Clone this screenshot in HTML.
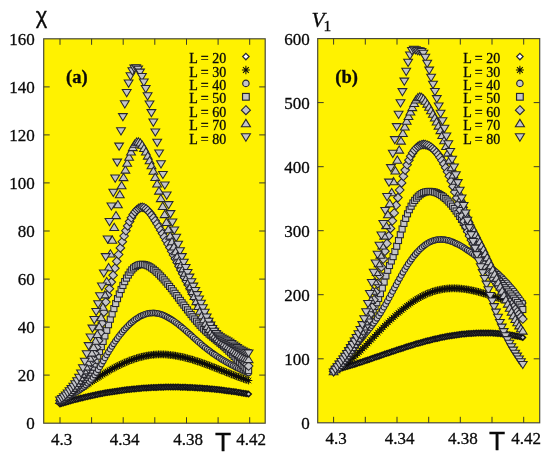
<!DOCTYPE html>
<html lang="en"><head><meta charset="utf-8"><title>Figure: susceptibility and V1 versus T</title>
<style>
html,body{margin:0;padding:0;background:#fff}
svg{display:block}
text{font-family:"Liberation Serif",serif;fill:#0a0a0a;stroke:#0a0a0a;stroke-width:.3px}
.c{fill:none;stroke:none}
.tk{font-size:17px}
.lg{font-size:14px}
.sub{font-size:15.5px}
.ab{font-size:18.5px;font-weight:bold}
.T{font-family:"Liberation Sans",sans-serif;font-size:26.5px}
.chi{font-family:"Liberation Sans",sans-serif;font-size:22px}
.V{font-style:italic;font-size:21.5px}
</style></head><body>
<svg width="550" height="463" viewBox="0 0 550 463">
<defs><marker id="k20" markerUnits="userSpaceOnUse" markerWidth="14" markerHeight="14" viewBox="-7 -7 14 14" refX="0" refY="0" orient="0"><path d="M0-2.7 2.7 0 0 2.7-2.7 0Z" fill="#c8c8c8" stroke="#141418" stroke-width="1.45"/></marker><marker id="k30" markerUnits="userSpaceOnUse" markerWidth="14" markerHeight="14" viewBox="-7 -7 14 14" refX="0" refY="0" orient="0"><path d="M0-3.9V3.9M-3.7 0H3.7M-2.7-2.7 2.7 2.7M-2.7 2.7 2.7-2.7" fill="none" stroke="#0c0c0c" stroke-width=".95"/></marker><marker id="k40" markerUnits="userSpaceOnUse" markerWidth="14" markerHeight="14" viewBox="-7 -7 14 14" refX="0" refY="0" orient="0"><circle r="2.85" fill="#c4c4c8" stroke="#26262e" stroke-width="1.05"/></marker><marker id="k50" markerUnits="userSpaceOnUse" markerWidth="14" markerHeight="14" viewBox="-7 -7 14 14" refX="0" refY="0" orient="0"><rect x="-3.05" y="-3.05" width="6.1" height="6.1" fill="#c4c4c8" stroke="#26262e" stroke-width="1.05"/></marker><marker id="k60" markerUnits="userSpaceOnUse" markerWidth="14" markerHeight="14" viewBox="-7 -7 14 14" refX="0" refY="0" orient="0"><path d="M0-4.3 4.3 0 0 4.3-4.3 0Z" fill="#c4c4c8" stroke="#26262e" stroke-width="1.05"/></marker><marker id="k70" markerUnits="userSpaceOnUse" markerWidth="14" markerHeight="14" viewBox="-7 -7 14 14" refX="0" refY="0" orient="0"><path d="M0-4.1 4.4 3.1H-4.4Z" fill="#c4c4c8" stroke="#26262e" stroke-width="1.05"/></marker><marker id="k80" markerUnits="userSpaceOnUse" markerWidth="14" markerHeight="14" viewBox="-7 -7 14 14" refX="0" refY="0" orient="0"><path d="M0 4.1 4.4-3.1H-4.4Z" fill="#c4c4c8" stroke="#26262e" stroke-width="1.05"/></marker></defs>
<rect width="550" height="463" fill="#fff"/>
<rect x="43.7" y="38.8" width="221.5" height="384.4" fill="#fff200" stroke="#4a4a3a" stroke-width="1.2"/>
<path d="M60.0 38.8v6M60.0 423.2v-6M91.6 38.8v6M91.6 423.2v-6M123.2 38.8v6M123.2 423.2v-6M154.8 38.8v6M154.8 423.2v-6M186.5 38.8v6M186.5 423.2v-6M218.1 38.8v6M218.1 423.2v-6M249.7 38.8v6M249.7 423.2v-6M43.7 375.1h6M265.2 375.1h-6M43.7 327.1h6M265.2 327.1h-6M43.7 279.1h6M265.2 279.1h-6M43.7 231.0h6M265.2 231.0h-6M43.7 182.9h6M265.2 182.9h-6M43.7 134.9h6M265.2 134.9h-6M43.7 86.9h6M265.2 86.9h-6" stroke="#3a3a2a" stroke-width="1" fill="none"/>
<polyline class="c" points="60.0,404.1 61.7,403.6 63.4,403.0 65.1,402.5 66.8,402.0 68.5,401.5 70.2,401.0 71.9,400.6 73.6,400.1 75.3,399.6 77.0,399.2 78.7,398.8 80.4,398.3 82.1,397.9 83.8,397.5 85.5,397.1 87.2,396.7 88.9,396.3 90.6,395.9 92.3,395.5 94.0,395.2 95.7,394.8 97.4,394.5 99.1,394.1 100.8,393.8 102.5,393.5 104.2,393.1 105.9,392.8 107.6,392.5 109.3,392.3 111.0,392.0 112.7,391.7 114.4,391.4 116.1,391.2 117.8,390.9 119.5,390.7 121.2,390.5 122.9,390.2 124.6,390.0 126.3,389.8 128.0,389.6 129.7,389.4 131.4,389.2 133.1,389.0 134.8,388.9 136.5,388.7 138.2,388.6 139.9,388.4 141.6,388.3 143.3,388.1 145.0,388.0 146.7,387.9 148.4,387.8 150.1,387.7 151.8,387.6 153.5,387.5 155.1,387.4 156.8,387.4 158.5,387.3 160.2,387.3 161.9,387.2 163.6,387.2 165.3,387.1 167.0,387.1 168.7,387.1 170.4,387.1 172.1,387.1 173.8,387.1 175.5,387.1 177.2,387.1 178.9,387.1 180.6,387.2 182.3,387.2 184.0,387.2 185.7,387.3 187.4,387.4 189.1,387.4 190.8,387.5 192.5,387.6 194.2,387.7 195.9,387.8 197.6,387.9 199.3,388.0 201.0,388.1 202.7,388.2 204.4,388.4 206.1,388.5 207.8,388.6 209.5,388.8 211.2,388.9 212.9,389.1 214.6,389.3 216.3,389.5 218.0,389.6 219.7,389.8 221.4,390.0 223.1,390.2 224.8,390.4 226.5,390.7 228.2,390.9 229.9,391.1 231.6,391.4 233.3,391.6 235.0,391.8 236.7,392.1 238.4,392.4 240.1,392.6 241.8,392.9 243.5,393.2 245.2,393.5 246.9,393.8 248.6,394.1" marker-start="url(#k20)" marker-mid="url(#k20)" marker-end="url(#k20)"/>
<polyline class="c" points="60.0,402.0 61.7,401.1 63.4,400.1 65.1,399.1 66.8,398.0 68.5,397.0 70.2,395.9 71.9,394.8 73.6,393.7 75.3,392.6 77.0,391.5 78.7,390.4 80.4,389.2 82.1,388.1 83.8,386.9 85.5,385.8 87.2,384.6 88.9,383.5 90.6,382.4 92.3,381.2 94.0,380.1 95.7,379.0 97.4,377.9 99.1,376.8 100.8,375.7 102.5,374.6 104.2,373.5 105.9,372.5 107.6,371.5 109.3,370.5 111.0,369.5 112.7,368.6 114.4,367.7 116.1,366.8 117.8,365.9 119.5,365.1 121.2,364.3 122.9,363.5 124.6,362.7 126.3,362.0 128.0,361.3 129.7,360.6 131.4,360.0 133.1,359.4 134.8,358.8 136.5,358.2 138.2,357.7 139.9,357.3 141.6,356.8 143.3,356.4 145.0,356.0 146.7,355.7 148.4,355.4 150.1,355.1 151.8,354.9 153.5,354.7 155.1,354.6 156.8,354.5 158.5,354.4 160.2,354.4 161.9,354.4 163.6,354.4 165.3,354.5 167.0,354.6 168.7,354.8 170.4,355.0 172.1,355.2 173.8,355.4 175.5,355.7 177.2,356.0 178.9,356.3 180.6,356.7 182.3,357.0 184.0,357.4 185.7,357.8 187.4,358.3 189.1,358.8 190.8,359.2 192.5,359.7 194.2,360.3 195.9,360.8 197.6,361.4 199.3,361.9 201.0,362.5 202.7,363.1 204.4,363.7 206.1,364.3 207.8,365.0 209.5,365.6 211.2,366.3 212.9,366.9 214.6,367.6 216.3,368.2 218.0,368.9 219.7,369.6 221.4,370.3 223.1,370.9 224.8,371.6 226.5,372.3 228.2,373.0 229.9,373.6 231.6,374.3 233.3,375.0 235.0,375.6 236.7,376.3 238.4,376.9 240.1,377.5 241.8,378.1 243.5,378.8 245.2,379.4 246.9,379.9 248.6,380.5" marker-start="url(#k30)" marker-mid="url(#k30)" marker-end="url(#k30)"/>
<polyline class="c" points="60.0,401.5 61.7,400.3 63.5,399.2 65.2,398.2 66.9,397.2 68.7,396.2 70.4,395.3 72.1,394.3 73.8,393.4 75.6,392.4 77.3,391.4 79.0,390.3 80.8,389.1 82.5,387.9 84.2,386.5 86.0,385.0 87.7,383.3 89.4,381.5 91.1,379.5 92.9,377.4 94.6,375.0 96.3,372.5 98.1,369.8 99.8,366.9 101.5,364.0 103.3,361.0 105.0,357.9 106.7,354.9 108.4,352.0 110.2,349.2 111.9,346.4 113.6,343.8 115.4,341.2 117.1,338.8 118.8,336.4 120.6,334.2 122.3,332.1 124.0,330.0 125.8,328.1 127.5,326.3 129.2,324.6 130.9,323.0 132.7,321.5 134.4,320.1 136.1,318.9 137.9,317.8 139.6,316.7 141.3,315.8 143.1,315.0 144.8,314.4 146.5,313.8 148.2,313.4 150.0,313.1 151.7,313.0 153.4,312.9 155.2,313.0 156.9,313.3 158.6,313.6 160.4,314.1 162.1,314.7 163.8,315.3 165.5,316.1 167.3,317.0 169.0,318.0 170.7,319.0 172.5,320.1 174.2,321.3 175.9,322.6 177.7,323.9 179.4,325.3 181.1,326.7 182.8,328.1 184.6,329.6 186.3,331.1 188.0,332.6 189.8,334.2 191.5,335.7 193.2,337.3 195.0,338.8 196.7,340.4 198.4,341.9 200.2,343.4 201.9,344.9 203.6,346.3 205.3,347.7 207.1,349.1 208.8,350.4 210.5,351.7 212.3,353.0 214.0,354.2 215.7,355.4 217.5,356.6 219.2,357.7 220.9,358.8 222.6,359.9 224.4,360.9 226.1,361.9 227.8,362.9 229.6,363.9 231.3,364.8 233.0,365.7 234.8,366.6 236.5,367.5 238.2,368.4 239.9,369.2 241.7,370.0 243.4,370.8 245.1,371.5 246.9,372.3 248.6,373.0" marker-start="url(#k40)" marker-mid="url(#k40)" marker-end="url(#k40)"/>
<polyline class="c" points="60.0,401.0 61.8,400.0 63.6,398.8 65.4,397.5 67.2,396.1 69.0,394.6 70.8,393.0 72.6,391.3 74.4,389.5 76.2,387.6 78.0,385.6 79.8,383.6 81.6,381.6 83.4,379.5 85.1,377.3 86.9,375.1 88.7,372.7 90.5,370.1 92.3,367.2 94.1,364.0 95.9,360.3 97.7,356.1 99.5,351.6 101.3,346.6 103.1,341.4 104.9,335.9 106.7,330.3 108.5,324.7 110.3,319.2 112.1,313.9 113.9,308.6 115.7,303.5 117.5,298.6 119.3,294.0 121.1,289.5 122.9,285.4 124.7,281.6 126.5,278.1 128.3,275.0 130.1,272.2 131.8,269.9 133.6,268.0 135.4,266.6 137.2,265.5 139.0,264.8 140.8,264.4 142.6,264.3 144.4,264.6 146.2,265.1 148.0,265.8 149.8,266.8 151.6,268.0 153.4,269.3 155.2,270.8 157.0,272.4 158.8,274.1 160.6,276.0 162.4,277.9 164.2,279.9 166.0,282.0 167.8,284.2 169.6,286.4 171.4,288.6 173.2,290.9 175.0,293.3 176.8,295.6 178.5,298.0 180.3,300.4 182.1,302.8 183.9,305.1 185.7,307.5 187.5,309.9 189.3,312.2 191.1,314.5 192.9,316.8 194.7,319.0 196.5,321.2 198.3,323.2 200.1,325.3 201.9,327.2 203.7,329.0 205.5,330.8 207.3,332.4 209.1,334.1 210.9,335.6 212.7,337.1 214.5,338.6 216.3,340.1 218.1,341.6 219.9,343.1 221.7,344.6 223.5,346.1 225.2,347.7 227.0,349.3 228.8,351.1 230.6,352.8 232.4,354.6 234.2,356.4 236.0,358.3 237.8,360.1 239.6,362.0 241.4,363.8 243.2,365.6 245.0,367.3 246.8,369.0 248.6,370.6" marker-start="url(#k50)" marker-mid="url(#k50)" marker-end="url(#k50)"/>
<polyline class="c" points="60.0,400.6 61.8,399.4 63.7,398.1 65.5,396.6 67.3,395.0 69.2,393.3 71.0,391.5 72.8,389.5 74.6,387.4 76.5,385.2 78.3,382.9 80.1,380.4 82.0,377.9 83.8,375.3 85.6,372.5 87.5,369.5 89.3,366.2 91.1,362.5 93.0,358.2 94.8,353.2 96.6,347.4 98.5,340.7 100.3,332.7 102.1,323.1 103.9,312.1 105.8,302.0 107.6,295.1 109.4,288.7 111.3,282.1 113.1,275.3 114.9,268.3 116.8,261.3 118.6,254.5 120.4,247.9 122.3,241.7 124.1,236.0 125.9,230.7 127.7,225.9 129.6,221.6 131.4,217.8 133.2,214.6 135.1,211.9 136.9,209.8 138.7,208.4 140.6,207.5 142.4,207.3 144.2,207.8 146.1,208.9 147.9,210.5 149.7,212.6 151.6,215.1 153.4,217.8 155.2,220.7 157.0,223.8 158.9,227.0 160.7,230.2 162.5,233.6 164.4,237.0 166.2,240.5 168.0,244.0 169.9,247.6 171.7,251.3 173.5,255.0 175.4,258.7 177.2,262.4 179.0,266.2 180.9,269.9 182.7,273.7 184.5,277.4 186.3,281.1 188.2,284.8 190.0,288.5 191.8,292.1 193.7,295.6 195.5,299.1 197.3,302.5 199.2,305.8 201.0,309.1 202.8,312.2 204.7,315.2 206.5,318.2 208.3,321.0 210.1,323.8 212.0,326.4 213.8,329.0 215.6,331.5 217.5,333.9 219.3,336.2 221.1,338.5 223.0,340.7 224.8,342.8 226.6,344.8 228.5,346.9 230.3,348.8 232.1,350.7 234.0,352.5 235.8,354.3 237.6,356.1 239.4,357.8 241.3,359.5 243.1,361.2 244.9,362.8 246.8,364.4 248.6,366.0" marker-start="url(#k60)" marker-mid="url(#k60)" marker-end="url(#k60)"/>
<polyline class="c" points="60.0,400.3 61.9,398.9 63.7,397.5 65.6,395.9 67.5,394.2 69.3,392.4 71.2,390.4 73.1,388.3 74.9,385.9 76.8,383.4 78.7,380.6 80.5,377.6 82.4,374.3 84.3,370.8 86.1,366.9 88.0,362.7 89.9,358.1 91.7,353.0 93.6,347.4 95.5,341.2 97.3,334.4 99.2,326.7 101.1,317.7 102.9,307.1 104.8,294.8 106.7,281.5 108.6,267.7 110.4,253.8 112.3,240.2 114.2,227.4 116.0,215.5 117.9,204.6 119.8,194.7 121.6,185.7 123.5,177.5 125.4,170.0 127.2,163.2 129.1,157.2 131.0,151.9 132.8,147.5 134.7,144.2 136.6,142.2 138.4,141.8 140.3,142.9 142.2,145.2 144.0,148.3 145.9,151.9 147.8,156.0 149.6,160.6 151.5,165.7 153.4,171.2 155.2,177.3 157.1,183.9 159.0,191.0 160.8,198.5 162.7,206.4 164.6,214.5 166.4,222.4 168.3,229.6 170.2,236.0 172.0,241.7 173.9,246.8 175.8,251.6 177.6,256.1 179.5,260.4 181.4,264.6 183.2,268.8 185.1,273.1 187.0,277.4 188.8,281.9 190.7,286.6 192.6,291.4 194.4,296.4 196.3,301.5 198.2,306.4 200.0,311.2 201.9,315.6 203.8,319.7 205.7,323.3 207.5,326.4 209.4,329.3 211.3,331.8 213.1,334.0 215.0,336.0 216.9,337.8 218.7,339.4 220.6,340.9 222.5,342.3 224.3,343.7 226.2,345.1 228.1,346.5 229.9,347.9 231.8,349.3 233.7,350.7 235.5,352.1 237.4,353.4 239.3,354.7 241.1,355.9 243.0,357.0 244.9,357.9 246.7,358.8 248.6,359.5" marker-start="url(#k70)" marker-mid="url(#k70)" marker-end="url(#k70)"/>
<polyline class="c" points="60.0,400.0 61.9,398.5 63.8,396.9 65.7,395.0 67.6,393.0 69.5,390.9 71.4,388.7 73.3,386.3 75.2,383.8 77.1,380.9 79.1,377.3 81.0,373.0 82.9,367.8 84.8,361.4 86.7,353.9 88.6,345.7 90.5,337.0 92.4,328.2 94.3,319.6 96.2,311.5 98.1,303.8 100.0,295.8 101.9,286.1 103.8,273.0 105.7,256.7 107.6,239.0 109.5,221.6 111.4,206.0 113.3,192.4 115.2,178.1 117.2,162.2 119.1,146.2 121.0,130.9 122.9,116.7 124.8,103.9 126.7,92.6 128.6,83.1 130.5,75.8 132.4,70.8 134.3,68.2 136.2,67.8 138.1,69.2 140.0,72.2 141.9,76.6 143.8,82.1 145.7,88.6 147.6,95.9 149.5,104.0 151.4,112.7 153.3,122.1 155.3,132.0 157.2,142.4 159.1,153.0 161.0,163.8 162.9,174.5 164.8,185.0 166.7,195.1 168.6,204.7 170.5,213.7 172.4,222.1 174.3,230.0 176.2,237.4 178.1,244.3 180.0,250.8 181.9,256.7 183.8,262.3 185.7,267.6 187.6,272.5 189.5,277.2 191.4,281.8 193.4,286.2 195.3,290.5 197.2,294.7 199.1,299.0 201.0,303.4 202.9,307.8 204.8,312.4 206.7,317.0 208.6,321.3 210.5,325.2 212.4,328.5 214.3,331.4 216.2,333.6 218.1,335.4 220.0,336.8 221.9,338.0 223.8,339.0 225.7,340.0 227.6,341.1 229.5,342.3 231.5,343.6 233.4,345.0 235.3,346.4 237.2,347.7 239.1,349.0 241.0,350.1 242.9,351.1 244.8,352.0 246.7,352.6 248.6,353.0" marker-start="url(#k80)" marker-mid="url(#k80)" marker-end="url(#k80)"/>
<text x="34.7" y="429.3" text-anchor="end" class="tk">0</text>
<text x="34.7" y="381.2" text-anchor="end" class="tk">20</text>
<text x="34.7" y="333.2" text-anchor="end" class="tk">40</text>
<text x="34.7" y="285.2" text-anchor="end" class="tk">60</text>
<text x="34.7" y="237.1" text-anchor="end" class="tk">80</text>
<text x="34.7" y="189.0" text-anchor="end" class="tk">100</text>
<text x="34.7" y="141.0" text-anchor="end" class="tk">120</text>
<text x="34.7" y="93.0" text-anchor="end" class="tk">140</text>
<text x="34.7" y="44.9" text-anchor="end" class="tk">160</text>
<text x="61.5" y="444.5" text-anchor="middle" class="tk">4.3</text>
<text x="124.7" y="444.5" text-anchor="middle" class="tk">4.34</text>
<text x="188.0" y="444.5" text-anchor="middle" class="tk">4.38</text>
<text x="251.2" y="444.5" text-anchor="middle" class="tk">4.42</text>
<text x="223.1" y="450.7" text-anchor="middle" class="T">T</text>
<text x="189.3" y="63.2" class="lg">L = 20</text>
<g transform="translate(245.9 56.6) scale(1)"><path d="M0-3.2 3.2 0 0 3.2-3.2 0Z" fill="#fff" stroke="#26262e" stroke-width="1.25"/></g>
<text x="189.3" y="76.6" class="lg">L = 30</text>
<g transform="translate(245.9 70.0) scale(1.08)"><path d="M0-3.9V3.9M-3.7 0H3.7M-2.7-2.7 2.7 2.7M-2.7 2.7 2.7-2.7" fill="none" stroke="#0c0c0c" stroke-width=".95"/></g>
<text x="189.3" y="90.0" class="lg">L = 40</text>
<g transform="translate(245.9 83.4) scale(1.12)"><circle r="2.85" fill="#c4c4c8" stroke="#26262e" stroke-width="1.05"/></g>
<text x="189.3" y="103.4" class="lg">L = 50</text>
<g transform="translate(245.9 96.8) scale(1.1)"><rect x="-3.05" y="-3.05" width="6.1" height="6.1" fill="#c4c4c8" stroke="#26262e" stroke-width="1.05"/></g>
<text x="189.3" y="116.8" class="lg">L = 60</text>
<g transform="translate(245.9 110.2) scale(1.05)"><path d="M0-4.3 4.3 0 0 4.3-4.3 0Z" fill="#c4c4c8" stroke="#26262e" stroke-width="1.05"/></g>
<text x="189.3" y="130.2" class="lg">L = 70</text>
<g transform="translate(245.9 123.6) scale(1.03)"><path d="M0-4.1 4.4 3.1H-4.4Z" fill="#c4c4c8" stroke="#26262e" stroke-width="1.05"/></g>
<text x="189.3" y="143.6" class="lg">L = 80</text>
<g transform="translate(245.9 137.0) scale(1.03)"><path d="M0 4.1 4.4-3.1H-4.4Z" fill="#c4c4c8" stroke="#26262e" stroke-width="1.05"/></g>
<rect x="317.7" y="38.6" width="222.0" height="384.2" fill="#fff200" stroke="#4a4a3a" stroke-width="1.2"/>
<path d="M333.6 38.6v6M333.6 422.8v-6M365.3 38.6v6M365.3 422.8v-6M397.0 38.6v6M397.0 422.8v-6M428.7 38.6v6M428.7 422.8v-6M460.3 38.6v6M460.3 422.8v-6M492.0 38.6v6M492.0 422.8v-6M523.7 38.6v6M523.7 422.8v-6M317.7 358.8h6M539.7 358.8h-6M317.7 294.7h6M539.7 294.7h-6M317.7 230.7h6M539.7 230.7h-6M317.7 166.7h6M539.7 166.7h-6M317.7 102.6h6M539.7 102.6h-6" stroke="#3a3a2a" stroke-width="1" fill="none"/>
<polyline class="c" points="333.6,370.4 335.3,370.0 337.0,369.5 338.7,369.0 340.4,368.5 342.1,368.1 343.8,367.6 345.5,367.1 347.2,366.5 348.9,366.0 350.6,365.5 352.3,365.0 354.1,364.4 355.8,363.9 357.5,363.3 359.2,362.8 360.9,362.2 362.6,361.7 364.3,361.1 366.0,360.5 367.7,359.9 369.4,359.4 371.1,358.8 372.8,358.2 374.5,357.6 376.2,357.0 377.9,356.5 379.6,355.9 381.3,355.3 383.0,354.7 384.7,354.1 386.4,353.5 388.1,353.0 389.8,352.4 391.6,351.8 393.3,351.2 395.0,350.7 396.7,350.1 398.4,349.5 400.1,349.0 401.8,348.4 403.5,347.9 405.2,347.3 406.9,346.8 408.6,346.2 410.3,345.7 412.0,345.2 413.7,344.7 415.4,344.1 417.1,343.6 418.8,343.2 420.5,342.7 422.2,342.2 423.9,341.7 425.6,341.3 427.3,340.8 429.1,340.4 430.8,340.0 432.5,339.6 434.2,339.1 435.9,338.8 437.6,338.4 439.3,338.0 441.0,337.6 442.7,337.3 444.4,337.0 446.1,336.6 447.8,336.3 449.5,336.0 451.2,335.8 452.9,335.5 454.6,335.2 456.3,335.0 458.0,334.7 459.7,334.5 461.4,334.3 463.1,334.1 464.8,334.0 466.6,333.8 468.3,333.6 470.0,333.5 471.7,333.4 473.4,333.3 475.1,333.2 476.8,333.1 478.5,333.1 480.2,333.0 481.9,333.0 483.6,333.0 485.3,333.0 487.0,333.0 488.7,333.0 490.4,333.1 492.1,333.1 493.8,333.2 495.5,333.3 497.2,333.4 498.9,333.6 500.6,333.7 502.3,333.9 504.1,334.1 505.8,334.3 507.5,334.5 509.2,334.8 510.9,335.0 512.6,335.3 514.3,335.6 516.0,335.9 517.7,336.2 519.4,336.6 521.1,337.0 522.8,337.4" marker-start="url(#k20)" marker-mid="url(#k20)" marker-end="url(#k20)"/>
<polyline class="c" points="333.6,370.7 335.3,370.0 337.0,369.2 338.7,368.3 340.4,367.4 342.1,366.3 343.8,365.2 345.5,364.0 347.2,362.7 348.9,361.3 350.6,359.9 352.3,358.5 354.1,356.9 355.8,355.4 357.5,353.8 359.2,352.1 360.9,350.5 362.6,348.7 364.3,347.0 366.0,345.3 367.7,343.5 369.4,341.7 371.1,339.9 372.8,338.1 374.5,336.3 376.2,334.5 377.9,332.7 379.6,330.9 381.3,329.2 383.0,327.4 384.7,325.7 386.4,324.0 388.1,322.4 389.8,320.7 391.6,319.1 393.3,317.5 395.0,316.0 396.7,314.4 398.4,312.9 400.1,311.5 401.8,310.1 403.5,308.7 405.2,307.3 406.9,306.0 408.6,304.7 410.3,303.5 412.0,302.3 413.7,301.1 415.4,300.0 417.1,299.0 418.8,298.0 420.5,297.0 422.2,296.1 423.9,295.2 425.6,294.4 427.3,293.6 429.1,292.9 430.8,292.3 432.5,291.7 434.2,291.1 435.9,290.6 437.6,290.2 439.3,289.8 441.0,289.5 442.7,289.2 444.4,288.9 446.1,288.7 447.8,288.5 449.5,288.4 451.2,288.4 452.9,288.3 454.6,288.3 456.3,288.4 458.0,288.4 459.7,288.6 461.4,288.7 463.1,288.9 464.8,289.1 466.6,289.4 468.3,289.6 470.0,290.0 471.7,290.3 473.4,290.7 475.1,291.1 476.8,291.5 478.5,291.9 480.2,292.4 481.9,292.9 483.6,293.4 485.3,293.9 487.0,294.4 488.7,294.9 490.4,295.5 492.1,296.0 493.8,296.6 495.5,297.1 497.2,297.6 498.9,298.2 500.6,298.7 502.3,299.2 504.1,299.6 505.8,300.1 507.5,300.5 509.2,300.9 510.9,301.3 512.6,301.7 514.3,302.0 516.0,302.3 517.7,302.5 519.4,302.7 521.1,302.9 522.8,303.0" marker-start="url(#k30)" marker-mid="url(#k30)" marker-end="url(#k30)"/>
<polyline class="c" points="333.6,371.0 335.3,369.2 337.1,367.3 338.8,365.4 340.5,363.4 342.3,361.4 344.0,359.4 345.8,357.3 347.5,355.2 349.2,353.1 351.0,351.0 352.7,348.9 354.4,346.8 356.2,344.7 357.9,342.7 359.6,340.6 361.4,338.5 363.1,336.5 364.8,334.4 366.6,332.2 368.3,330.1 370.1,327.9 371.8,325.6 373.5,323.3 375.3,320.9 377.0,318.3 378.7,315.7 380.5,313.0 382.2,310.2 383.9,307.2 385.7,304.2 387.4,301.1 389.1,297.9 390.9,294.7 392.6,291.4 394.4,288.1 396.1,284.9 397.8,281.7 399.6,278.5 401.3,275.4 403.0,272.3 404.8,269.4 406.5,266.6 408.2,263.9 410.0,261.4 411.7,259.0 413.4,256.7 415.2,254.5 416.9,252.5 418.7,250.6 420.4,248.9 422.1,247.3 423.9,245.8 425.6,244.5 427.3,243.4 429.1,242.4 430.8,241.5 432.5,240.9 434.3,240.3 436.0,239.9 437.7,239.6 439.5,239.5 441.2,239.4 443.0,239.5 444.7,239.7 446.4,240.0 448.2,240.4 449.9,240.9 451.6,241.5 453.4,242.2 455.1,243.0 456.8,243.8 458.6,244.7 460.3,245.6 462.0,246.6 463.8,247.7 465.5,248.8 467.3,250.0 469.0,251.1 470.7,252.4 472.5,253.6 474.2,254.9 475.9,256.1 477.7,257.4 479.4,258.7 481.1,260.0 482.9,261.3 484.6,262.6 486.3,263.9 488.1,265.3 489.8,266.7 491.6,268.1 493.3,269.6 495.0,271.1 496.8,272.6 498.5,274.2 500.2,275.8 502.0,277.5 503.7,279.3 505.4,281.1 507.2,282.9 508.9,284.8 510.6,286.8 512.4,288.9 514.1,291.0 515.9,293.3 517.6,295.6 519.3,297.9 521.1,300.4 522.8,303.0" marker-start="url(#k40)" marker-mid="url(#k40)" marker-end="url(#k40)"/>
<polyline class="c" points="333.6,371.2 335.4,368.9 337.2,366.5 339.0,364.1 340.8,361.6 342.6,359.1 344.4,356.6 346.2,354.0 348.0,351.4 349.8,348.7 351.6,345.9 353.4,343.1 355.2,340.3 357.0,337.4 358.8,334.4 360.6,331.4 362.4,328.3 364.2,325.3 366.0,322.2 367.8,319.1 369.6,316.0 371.4,313.0 373.2,309.8 375.0,306.4 376.8,302.7 378.6,298.4 380.4,293.6 382.3,288.0 384.1,282.0 385.9,275.9 387.7,270.3 389.5,265.5 391.3,261.0 393.1,256.6 394.9,251.6 396.7,246.2 398.5,240.5 400.3,234.7 402.1,229.0 403.9,223.4 405.7,218.4 407.5,213.8 409.3,209.7 411.1,206.2 412.9,203.0 414.7,200.4 416.5,198.1 418.3,196.2 420.1,194.7 421.9,193.5 423.7,192.6 425.5,192.0 427.3,191.6 429.1,191.4 430.9,191.5 432.7,191.7 434.5,192.1 436.3,192.7 438.1,193.5 439.9,194.5 441.7,195.6 443.5,197.0 445.3,198.5 447.1,200.1 448.9,202.0 450.7,204.0 452.5,206.2 454.3,208.5 456.1,211.0 457.9,213.6 459.7,216.4 461.5,219.4 463.3,222.5 465.1,225.8 466.9,229.2 468.7,232.7 470.5,236.2 472.3,239.8 474.1,243.4 476.0,246.8 477.8,250.1 479.6,253.3 481.4,256.4 483.2,259.3 485.0,262.1 486.8,264.8 488.6,267.4 490.4,269.9 492.2,272.3 494.0,274.6 495.8,276.9 497.6,279.2 499.4,281.3 501.2,283.5 503.0,285.6 504.8,287.7 506.6,289.8 508.4,291.9 510.2,293.9 512.0,296.0 513.8,298.2 515.6,300.3 517.4,302.5 519.2,304.8 521.0,307.1 522.8,309.5" marker-start="url(#k50)" marker-mid="url(#k50)" marker-end="url(#k50)"/>
<polyline class="c" points="333.6,371.4 335.4,369.8 337.3,368.1 339.1,366.2 340.9,364.2 342.8,362.1 344.6,359.9 346.5,357.6 348.3,355.2 350.1,352.7 352.0,350.1 353.8,347.5 355.6,344.8 357.5,342.1 359.3,339.3 361.2,336.4 363.0,333.1 364.8,329.4 366.7,325.1 368.5,320.0 370.3,314.1 372.2,307.3 374.0,299.8 375.8,291.9 377.7,283.6 379.5,275.3 381.4,267.0 383.2,259.0 385.0,251.2 386.9,243.5 388.7,235.9 390.5,228.4 392.4,220.8 394.2,213.0 396.1,205.3 397.9,197.6 399.7,190.0 401.6,182.9 403.4,176.2 405.2,170.1 407.1,164.8 408.9,160.2 410.7,156.2 412.6,152.9 414.4,150.2 416.3,148.0 418.1,146.4 419.9,145.3 421.8,144.7 423.6,144.4 425.4,144.6 427.3,145.2 429.1,146.0 431.0,147.2 432.8,148.6 434.6,150.3 436.5,152.4 438.3,154.8 440.1,157.5 442.0,160.5 443.8,163.9 445.7,167.7 447.5,171.8 449.3,176.3 451.2,181.1 453.0,186.4 454.8,192.0 456.7,197.9 458.5,203.9 460.3,209.9 462.2,215.8 464.0,221.4 465.9,226.7 467.7,231.5 469.5,236.0 471.4,240.2 473.2,244.1 475.0,247.8 476.9,251.4 478.7,254.8 480.6,258.2 482.4,261.4 484.2,264.6 486.1,267.6 487.9,270.6 489.7,273.5 491.6,276.4 493.4,279.1 495.2,281.8 497.1,284.5 498.9,287.1 500.8,289.7 502.6,292.2 504.4,294.7 506.3,297.2 508.1,299.6 509.9,302.0 511.8,304.5 513.6,306.9 515.5,309.3 517.3,311.7 519.1,314.1 521.0,316.6 522.8,319.0" marker-start="url(#k60)" marker-mid="url(#k60)" marker-end="url(#k60)"/>
<polyline class="c" points="333.6,371.7 335.5,369.7 337.3,367.6 339.2,365.4 341.1,363.1 343.0,360.7 344.8,358.2 346.7,355.7 348.6,353.0 350.5,350.2 352.3,347.4 354.2,344.4 356.1,341.3 358.0,338.2 359.8,334.8 361.7,331.1 363.6,326.9 365.4,321.8 367.3,315.9 369.2,308.7 371.1,300.3 372.9,291.1 374.8,281.6 376.7,272.4 378.6,263.7 380.4,255.1 382.3,245.9 384.2,236.0 386.1,225.5 387.9,214.7 389.8,203.7 391.7,192.7 393.5,181.7 395.4,170.9 397.3,160.2 399.2,150.0 401.0,141.0 402.9,133.3 404.8,126.8 406.7,121.2 408.5,116.3 410.4,111.8 412.3,107.5 414.2,103.4 416.0,99.9 417.9,97.7 419.8,96.9 421.6,97.3 423.5,98.8 425.4,101.1 427.3,104.0 429.1,107.2 431.0,110.6 432.9,114.1 434.8,117.8 436.6,121.8 438.5,126.0 440.4,130.5 442.2,135.3 444.1,140.6 446.0,146.4 447.9,153.0 449.7,160.2 451.6,167.7 453.5,174.8 455.4,181.1 457.2,187.0 459.1,192.8 461.0,198.6 462.9,204.4 464.7,209.9 466.6,214.9 468.5,219.4 470.3,223.5 472.2,227.4 474.1,231.0 476.0,234.6 477.8,238.3 479.7,242.0 481.6,245.8 483.5,249.6 485.3,253.6 487.2,257.6 489.1,261.6 491.0,265.7 492.8,269.9 494.7,274.1 496.6,278.3 498.4,282.6 500.3,286.9 502.2,291.2 504.1,295.5 505.9,299.8 507.8,304.0 509.7,308.1 511.6,312.0 513.4,315.8 515.3,319.4 517.2,322.7 519.1,325.8 520.9,328.6 522.8,331.0" marker-start="url(#k70)" marker-mid="url(#k70)" marker-end="url(#k70)"/>
<polyline class="c" points="333.6,372.0 335.5,369.4 337.4,366.8 339.3,364.2 341.2,361.6 343.2,359.0 345.1,356.3 347.0,353.6 348.9,350.7 350.8,347.7 352.7,344.5 354.6,341.2 356.5,337.6 358.4,333.8 360.4,329.6 362.3,324.7 364.2,318.9 366.1,311.9 368.0,303.5 369.9,293.6 371.8,282.6 373.7,272.3 375.6,263.1 377.6,254.4 379.5,245.3 381.4,235.1 383.3,223.5 385.2,210.5 387.1,196.6 389.0,182.2 390.9,167.7 392.8,153.4 394.8,139.7 396.7,126.7 398.6,114.4 400.5,102.8 402.4,91.7 404.3,81.2 406.2,71.3 408.1,62.3 410.0,55.1 412.0,50.6 413.9,49.3 415.8,49.8 417.7,50.6 419.6,50.9 421.5,51.5 423.4,53.4 425.3,57.4 427.2,63.4 429.2,70.2 431.1,77.3 433.0,84.3 434.9,91.5 436.8,98.7 438.7,106.0 440.6,113.4 442.5,120.9 444.4,128.4 446.4,136.1 448.3,143.8 450.2,151.5 452.1,159.3 454.0,167.1 455.9,174.9 457.8,182.7 459.7,190.4 461.6,198.0 463.6,205.6 465.5,213.1 467.4,220.4 469.3,227.7 471.2,234.7 473.1,241.6 475.0,248.2 476.9,254.7 478.8,260.9 480.8,266.9 482.7,272.7 484.6,278.5 486.5,284.2 488.4,289.8 490.3,295.5 492.2,301.1 494.1,306.7 496.0,312.2 498.0,317.4 499.9,322.5 501.8,327.2 503.7,331.7 505.6,335.8 507.5,339.7 509.4,343.4 511.3,346.9 513.2,350.2 515.2,353.3 517.1,356.2 519.0,359.1 520.9,361.8 522.8,364.5" marker-start="url(#k80)" marker-mid="url(#k80)" marker-end="url(#k80)"/>
<text x="309.7" y="428.9" text-anchor="end" class="tk">0</text>
<text x="309.7" y="364.9" text-anchor="end" class="tk">100</text>
<text x="309.7" y="300.8" text-anchor="end" class="tk">200</text>
<text x="309.7" y="236.8" text-anchor="end" class="tk">300</text>
<text x="309.7" y="172.8" text-anchor="end" class="tk">400</text>
<text x="309.7" y="108.7" text-anchor="end" class="tk">500</text>
<text x="309.7" y="44.7" text-anchor="end" class="tk">600</text>
<text x="336.1" y="444.1" text-anchor="middle" class="tk">4.3</text>
<text x="399.5" y="444.1" text-anchor="middle" class="tk">4.34</text>
<text x="462.8" y="444.1" text-anchor="middle" class="tk">4.38</text>
<text x="526.2" y="444.1" text-anchor="middle" class="tk">4.42</text>
<text x="497.0" y="450.3" text-anchor="middle" class="T">T</text>
<text x="463.3" y="63.2" class="lg">L = 20</text>
<g transform="translate(519.9 56.6) scale(1)"><path d="M0-3.2 3.2 0 0 3.2-3.2 0Z" fill="#fff" stroke="#26262e" stroke-width="1.25"/></g>
<text x="463.3" y="76.6" class="lg">L = 30</text>
<g transform="translate(519.9 70.0) scale(1.08)"><path d="M0-3.9V3.9M-3.7 0H3.7M-2.7-2.7 2.7 2.7M-2.7 2.7 2.7-2.7" fill="none" stroke="#0c0c0c" stroke-width=".95"/></g>
<text x="463.3" y="90.0" class="lg">L = 40</text>
<g transform="translate(519.9 83.4) scale(1.12)"><circle r="2.85" fill="#c4c4c8" stroke="#26262e" stroke-width="1.05"/></g>
<text x="463.3" y="103.4" class="lg">L = 50</text>
<g transform="translate(519.9 96.8) scale(1.1)"><rect x="-3.05" y="-3.05" width="6.1" height="6.1" fill="#c4c4c8" stroke="#26262e" stroke-width="1.05"/></g>
<text x="463.3" y="116.8" class="lg">L = 60</text>
<g transform="translate(519.9 110.2) scale(1.05)"><path d="M0-4.3 4.3 0 0 4.3-4.3 0Z" fill="#c4c4c8" stroke="#26262e" stroke-width="1.05"/></g>
<text x="463.3" y="130.2" class="lg">L = 70</text>
<g transform="translate(519.9 123.6) scale(1.03)"><path d="M0-4.1 4.4 3.1H-4.4Z" fill="#c4c4c8" stroke="#26262e" stroke-width="1.05"/></g>
<text x="463.3" y="143.6" class="lg">L = 80</text>
<g transform="translate(519.9 137.0) scale(1.03)"><path d="M0 4.1 4.4-3.1H-4.4Z" fill="#c4c4c8" stroke="#26262e" stroke-width="1.05"/></g>
<text x="66" y="83" class="ab">(a)</text>
<text x="335.3" y="83" class="ab">(b)</text>
<text x="35.8" y="22.6" class="chi">χ</text>
<text x="311.5" y="26.9" class="V">V</text><text x="323.6" y="31.3" class="sub">1</text>
</svg>
</body></html>
